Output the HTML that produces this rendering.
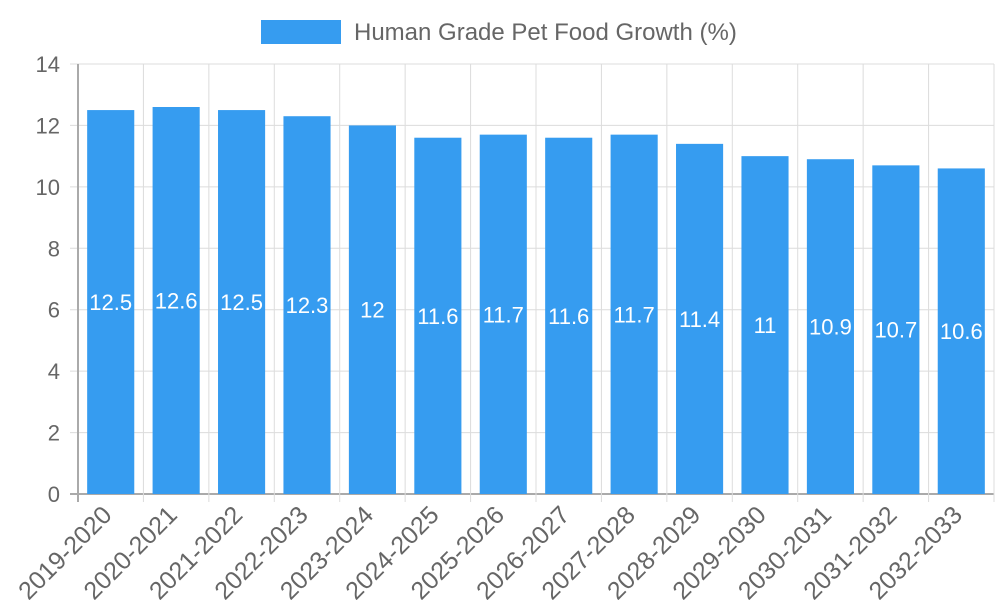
<!DOCTYPE html>
<html><head><meta charset="utf-8"><style>
html,body{margin:0;padding:0;background:#fff;}
svg{display:block;font-family:"Liberation Sans",sans-serif;}
</style></head><body>
<svg id="chart" width="1000" height="600">
<g id="grid"></g>
<g id="bars"></g>
<g id="axes"></g>
<g>
<rect x="261" y="20" width="80" height="24" fill="#369cf0"></rect>
<text x="354" y="40" font-size="24" fill="#666">Human Grade Pet Food Growth (%)</text>
</g>
</svg>
<script>
const categories = ["2019-2020","2020-2021","2021-2022","2022-2023","2023-2024","2024-2025","2025-2026","2026-2027","2027-2028","2028-2029","2029-2030","2030-2031","2031-2032","2032-2033"];
const values = [12.5,12.6,12.5,12.3,12,11.6,11.7,11.6,11.7,11.4,11,10.9,10.7,10.6];
const yTicks = [0,2,4,6,8,10,12,14];

const NS="http://www.w3.org/2000/svg";
const L=78,R=994,T=64,B=494,yMax=14;
const band=(R-L)/categories.length;
const y=v=>B-(v/yMax)*(B-T);
const x=i=>L+band*i;
function mk(tag,attrs,parent,text){const e=document.createElementNS(NS,tag);for(const k in attrs)e.setAttribute(k,attrs[k]);if(text!==undefined)e.textContent=text;parent.appendChild(e);return e;}
const grid=document.getElementById('grid'),bars=document.getElementById('bars'),axes=document.getElementById('axes');
yTicks.forEach(t=>{
  const l=mk('line',{x1:70,x2:R,y1:y(t),y2:y(t),stroke:t===0?'#aaa':'#dcdcdc','stroke-width':t===0?2:1},grid);
  
  
  const tx=mk('text',{x:60,y:y(t)+8,'text-anchor':'end','font-size':22,fill:'#666'},axes,String(t));
  
  
});
for(let i=0;i<=categories.length;i++){
  const l=mk('line',{x1:x(i),x2:x(i),y1:T,y2:B+8,stroke:i===0?'#aaa':'#dcdcdc','stroke-width':i===0?2:1},grid);
  
  
}
const bw=band*0.72;
values.forEach((v,i)=>{
  const cx=x(i)+band/2;
  const r=mk('rect',{x:cx-bw/2,y:y(v),width:bw,height:B-y(v),fill:'#369cf0'},bars);
  
  
  const t=mk('text',{x:cx,y:(y(v)+B)/2+8,'text-anchor':'middle','font-size':22,fill:'#fff'},bars,String(v));
  
  
  const lx=cx-10,ly=B+10;
  const c=mk('text',{x:lx,y:ly,'text-anchor':'end','font-size':25,fill:'#666',transform:`rotate(-45 ${lx} ${ly})`,'dominant-baseline':'hanging'},axes,categories[i]);
  
  
});
</script>
</body></html>
